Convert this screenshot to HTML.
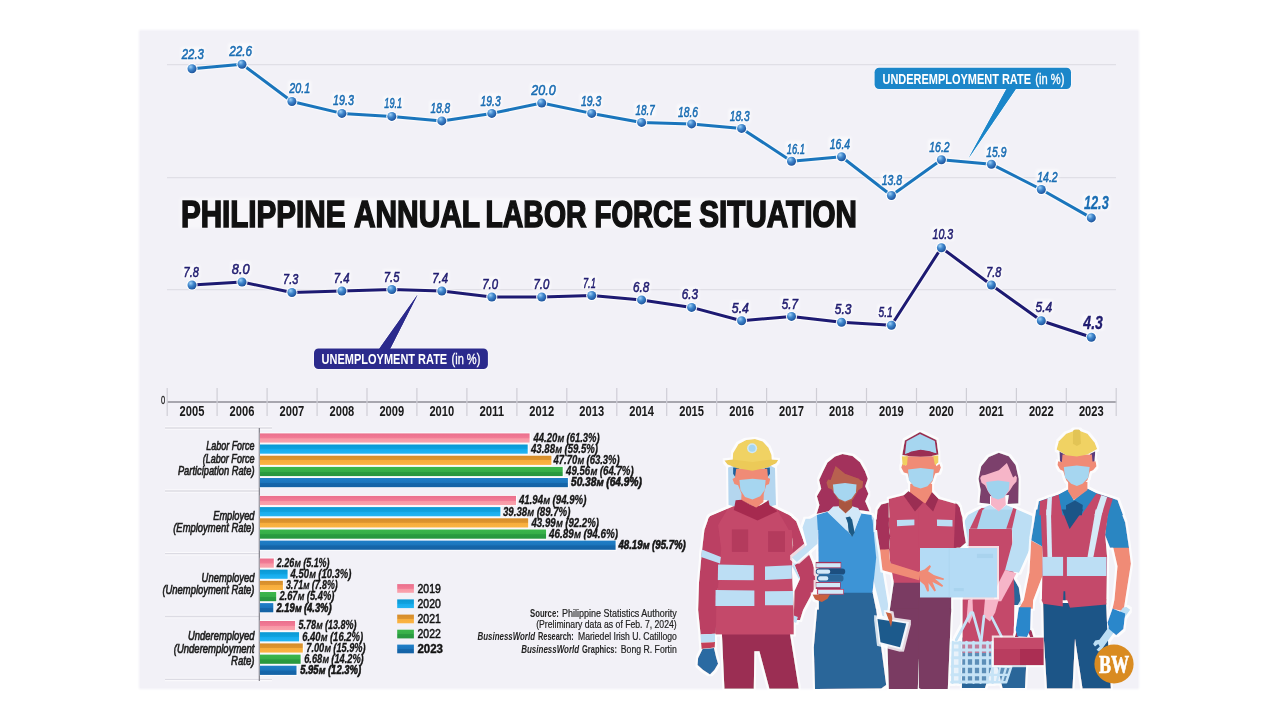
<!DOCTYPE html>
<html lang="en"><head><meta charset="utf-8"><title>Philippine Annual Labor Force Situation</title>
<style>
html,body{margin:0;padding:0;background:#fff;}
body{width:1280px;height:720px;overflow:hidden;font-family:"Liberation Sans", sans-serif;}
svg{display:block;}
svg text{font-family:"Liberation Sans", sans-serif;}
</style></head><body>
<svg width="1280" height="720" viewBox="0 0 1280 720">
<defs>
<radialGradient id="ball" cx="0.35" cy="0.3" r="0.75">
<stop offset="0" stop-color="#9fd0f5"/><stop offset="0.45" stop-color="#3f86cc"/><stop offset="1" stop-color="#1b4f98"/>
</radialGradient>
<linearGradient id="gpink" x1="0" y1="0" x2="0" y2="1"><stop offset="0" stop-color="#ea6f8c"/><stop offset="0.5" stop-color="#f27c96"/><stop offset="0.58" stop-color="#f898a6"/><stop offset="1" stop-color="#f9a3ad"/></linearGradient>
<linearGradient id="gcyan" x1="0" y1="0" x2="0" y2="1"><stop offset="0" stop-color="#0b98d3"/><stop offset="0.5" stop-color="#10a3e0"/><stop offset="0.55" stop-color="#16adee"/><stop offset="1" stop-color="#24b4f2"/></linearGradient>
<linearGradient id="gorange" x1="0" y1="0" x2="0" y2="1"><stop offset="0" stop-color="#d58c2a"/><stop offset="0.45" stop-color="#dd9530"/><stop offset="0.5" stop-color="#f7ad3c"/><stop offset="1" stop-color="#fbb443"/></linearGradient>
<linearGradient id="ggreen" x1="0" y1="0" x2="0" y2="1"><stop offset="0" stop-color="#3cb64b"/><stop offset="0.5" stop-color="#36ae48"/><stop offset="0.55" stop-color="#2a9c40"/><stop offset="1" stop-color="#27963e"/></linearGradient>
<linearGradient id="gblue" x1="0" y1="0" x2="0" y2="1"><stop offset="0" stop-color="#1f7fc8"/><stop offset="0.5" stop-color="#1b75bc"/><stop offset="0.55" stop-color="#1567ab"/><stop offset="1" stop-color="#1462a5"/></linearGradient>
<filter id="soft" x="-5%" y="-5%" width="110%" height="110%"><feGaussianBlur stdDeviation="0.8"/></filter>
<filter id="halo" x="-5%" y="-5%" width="110%" height="110%">
<feMorphology in="SourceAlpha" operator="dilate" radius="1.5" result="d"/>
<feGaussianBlur in="d" stdDeviation="0.7" result="b"/>
<feFlood flood-color="#fff" flood-opacity="0.8"/><feComposite in2="b" operator="in" result="h"/>
<feMerge><feMergeNode in="h"/><feMergeNode in="SourceGraphic"/></feMerge>
</filter>
<filter id="hblur" x="-20%" y="-30%" width="140%" height="160%"><feGaussianBlur stdDeviation="1.1"/></filter>
</defs>
<rect x="139" y="30" width="1000" height="659" fill="#f2f1f7" filter="url(#soft)"/>
<rect x="140" y="31" width="998" height="657" fill="#f2f1f7"/>
<line x1="167" y1="289.6" x2="1116" y2="289.6" stroke="#e0dfe6" stroke-width="1.2"/>
<line x1="167" y1="177.6" x2="1116" y2="177.6" stroke="#e0dfe6" stroke-width="1.2"/>
<line x1="167" y1="64.7" x2="1116" y2="64.7" stroke="#e0dfe6" stroke-width="1.2"/>
<rect x="179.7" y="197.4" width="678.4" height="30.6" rx="2" fill="#fff" fill-opacity="0.35" filter="url(#hblur)"/><text y="226.6" style="font-size:37.8px" fill="#111"><tspan x="180.9" textLength="164.6" lengthAdjust="spacingAndGlyphs" style="font-weight:700;" stroke="#111" stroke-width="1.6">PHILIPPINE</tspan> <tspan x="353.9" textLength="126.2" lengthAdjust="spacingAndGlyphs" style="font-weight:700;" stroke="#111" stroke-width="1.6">ANNUAL</tspan> <tspan x="485.5" textLength="101.0" lengthAdjust="spacingAndGlyphs" style="font-weight:700;" stroke="#111" stroke-width="1.6">LABOR</tspan> <tspan x="594.5" textLength="97.0" lengthAdjust="spacingAndGlyphs" style="font-weight:700;" stroke="#111" stroke-width="1.6">FORCE</tspan> <tspan x="699.3" textLength="157.6" lengthAdjust="spacingAndGlyphs" style="font-weight:700;" stroke="#111" stroke-width="1.6">SITUATION</tspan></text>
<line x1="167" y1="402" x2="1116.5" y2="402" stroke="#8e8d96" stroke-width="1.3"/>
<line x1="167.2" y1="388" x2="167.2" y2="416" stroke="#cfced6" stroke-width="1.2"/>
<line x1="217.1" y1="388" x2="217.1" y2="416" stroke="#cfced6" stroke-width="1.2"/>
<line x1="267.1" y1="388" x2="267.1" y2="416" stroke="#cfced6" stroke-width="1.2"/>
<line x1="317.1" y1="388" x2="317.1" y2="416" stroke="#cfced6" stroke-width="1.2"/>
<line x1="367.0" y1="388" x2="367.0" y2="416" stroke="#cfced6" stroke-width="1.2"/>
<line x1="416.9" y1="388" x2="416.9" y2="416" stroke="#cfced6" stroke-width="1.2"/>
<line x1="466.9" y1="388" x2="466.9" y2="416" stroke="#cfced6" stroke-width="1.2"/>
<line x1="516.9" y1="388" x2="516.9" y2="416" stroke="#cfced6" stroke-width="1.2"/>
<line x1="566.8" y1="388" x2="566.8" y2="416" stroke="#cfced6" stroke-width="1.2"/>
<line x1="616.8" y1="388" x2="616.8" y2="416" stroke="#cfced6" stroke-width="1.2"/>
<line x1="666.7" y1="388" x2="666.7" y2="416" stroke="#cfced6" stroke-width="1.2"/>
<line x1="716.7" y1="388" x2="716.7" y2="416" stroke="#cfced6" stroke-width="1.2"/>
<line x1="766.6" y1="388" x2="766.6" y2="416" stroke="#cfced6" stroke-width="1.2"/>
<line x1="816.5" y1="388" x2="816.5" y2="416" stroke="#cfced6" stroke-width="1.2"/>
<line x1="866.5" y1="388" x2="866.5" y2="416" stroke="#cfced6" stroke-width="1.2"/>
<line x1="916.5" y1="388" x2="916.5" y2="416" stroke="#cfced6" stroke-width="1.2"/>
<line x1="966.4" y1="388" x2="966.4" y2="416" stroke="#cfced6" stroke-width="1.2"/>
<line x1="1016.4" y1="388" x2="1016.4" y2="416" stroke="#cfced6" stroke-width="1.2"/>
<line x1="1066.3" y1="388" x2="1066.3" y2="416" stroke="#cfced6" stroke-width="1.2"/>
<line x1="1116.2" y1="388" x2="1116.2" y2="416" stroke="#cfced6" stroke-width="1.2"/>
<text x="161.0" y="403.9" textLength="4.2" lengthAdjust="spacingAndGlyphs" style="font-size:10.6px;font-weight:400;" fill="#222" stroke="#222" stroke-width="0.3" >0</text>
<text x="179.6" y="415.7" textLength="24.8" lengthAdjust="spacingAndGlyphs" style="font-size:14.0px;font-weight:700;" fill="#1a1a1a" >2005</text>
<text x="229.6" y="415.7" textLength="24.8" lengthAdjust="spacingAndGlyphs" style="font-size:14.0px;font-weight:700;" fill="#1a1a1a" >2006</text>
<text x="279.5" y="415.7" textLength="24.8" lengthAdjust="spacingAndGlyphs" style="font-size:14.0px;font-weight:700;" fill="#1a1a1a" >2007</text>
<text x="329.5" y="415.7" textLength="24.8" lengthAdjust="spacingAndGlyphs" style="font-size:14.0px;font-weight:700;" fill="#1a1a1a" >2008</text>
<text x="379.4" y="415.7" textLength="24.8" lengthAdjust="spacingAndGlyphs" style="font-size:14.0px;font-weight:700;" fill="#1a1a1a" >2009</text>
<text x="429.4" y="415.7" textLength="24.8" lengthAdjust="spacingAndGlyphs" style="font-size:14.0px;font-weight:700;" fill="#1a1a1a" >2010</text>
<text x="479.4" y="415.7" textLength="24.8" lengthAdjust="spacingAndGlyphs" style="font-size:14.0px;font-weight:700;" fill="#1a1a1a" >2011</text>
<text x="529.3" y="415.7" textLength="24.8" lengthAdjust="spacingAndGlyphs" style="font-size:14.0px;font-weight:700;" fill="#1a1a1a" >2012</text>
<text x="579.3" y="415.7" textLength="24.8" lengthAdjust="spacingAndGlyphs" style="font-size:14.0px;font-weight:700;" fill="#1a1a1a" >2013</text>
<text x="629.2" y="415.7" textLength="24.8" lengthAdjust="spacingAndGlyphs" style="font-size:14.0px;font-weight:700;" fill="#1a1a1a" >2014</text>
<text x="679.2" y="415.7" textLength="24.8" lengthAdjust="spacingAndGlyphs" style="font-size:14.0px;font-weight:700;" fill="#1a1a1a" >2015</text>
<text x="729.2" y="415.7" textLength="24.8" lengthAdjust="spacingAndGlyphs" style="font-size:14.0px;font-weight:700;" fill="#1a1a1a" >2016</text>
<text x="779.1" y="415.7" textLength="24.8" lengthAdjust="spacingAndGlyphs" style="font-size:14.0px;font-weight:700;" fill="#1a1a1a" >2017</text>
<text x="829.1" y="415.7" textLength="24.8" lengthAdjust="spacingAndGlyphs" style="font-size:14.0px;font-weight:700;" fill="#1a1a1a" >2018</text>
<text x="879.0" y="415.7" textLength="24.8" lengthAdjust="spacingAndGlyphs" style="font-size:14.0px;font-weight:700;" fill="#1a1a1a" >2019</text>
<text x="929.0" y="415.7" textLength="24.8" lengthAdjust="spacingAndGlyphs" style="font-size:14.0px;font-weight:700;" fill="#1a1a1a" >2020</text>
<text x="979.0" y="415.7" textLength="24.8" lengthAdjust="spacingAndGlyphs" style="font-size:14.0px;font-weight:700;" fill="#1a1a1a" >2021</text>
<text x="1028.9" y="415.7" textLength="24.8" lengthAdjust="spacingAndGlyphs" style="font-size:14.0px;font-weight:700;" fill="#1a1a1a" >2022</text>
<text x="1078.9" y="415.7" textLength="24.8" lengthAdjust="spacingAndGlyphs" style="font-size:14.0px;font-weight:700;" fill="#1a1a1a" >2023</text>
<g><polygon points="1007,88 1016.5,88 968.7,158" fill="#1b86c9" stroke="#fff" stroke-opacity="0.6" stroke-width="1.5" paint-order="stroke"/><rect x="874.6" y="67.8" width="196.4" height="21.3" rx="4.5" fill="#1b86c9" stroke="#fff" stroke-opacity="0.6" stroke-width="1.5" paint-order="stroke"/><polygon points="1007,88 1016.5,88 968.7,158" fill="#1b86c9"/></g>
<text y="84.0" style="font-size:15.2px" fill="#fff"><tspan x="882.5" textLength="148.5" lengthAdjust="spacingAndGlyphs" style="font-weight:700;">UNDEREMPLOYMENT RATE</tspan> <tspan x="1035.3" textLength="29.1" lengthAdjust="spacingAndGlyphs" style="font-weight:400;" stroke="#fff" stroke-width="0.35">(in %)</tspan></text>
<g><polygon points="378.7,349.5 389.8,349.5 417.7,294.4" fill="#2b2a8c" stroke="#fff" stroke-opacity="0.6" stroke-width="1.5" paint-order="stroke"/><rect x="314" y="348.4" width="173.9" height="20.6" rx="4.5" fill="#2b2a8c" stroke="#fff" stroke-opacity="0.6" stroke-width="1.5" paint-order="stroke"/><polygon points="378.7,349.5 389.8,349.5 417.7,294.4" fill="#2b2a8c"/></g>
<text y="364.3" style="font-size:15.2px" fill="#fff"><tspan x="321.6" textLength="125.6" lengthAdjust="spacingAndGlyphs" style="font-weight:700;">UNEMPLOYMENT RATE</tspan> <tspan x="451.5" textLength="28.9" lengthAdjust="spacingAndGlyphs" style="font-weight:400;" stroke="#fff" stroke-width="0.35">(in %)</tspan></text>
<polyline points="192.0,68.7 242.0,64.2 291.9,101.5 341.9,113.4 391.8,116.4 441.8,120.9 491.8,113.4 541.7,103.0 591.7,113.4 641.6,122.4 691.6,123.9 741.6,128.4 791.5,161.2 841.5,156.7 891.4,195.5 941.4,159.7 991.4,164.2 1041.3,189.5 1091.3,217.9" fill="none" stroke="#fff" stroke-opacity="0.55" stroke-width="5.5" stroke-linejoin="round"/>
<polyline points="192.0,68.7 242.0,64.2 291.9,101.5 341.9,113.4 391.8,116.4 441.8,120.9 491.8,113.4 541.7,103.0 591.7,113.4 641.6,122.4 691.6,123.9 741.6,128.4 791.5,161.2 841.5,156.7 891.4,195.5 941.4,159.7 991.4,164.2 1041.3,189.5 1091.3,217.9" fill="none" stroke="#1a75bc" stroke-width="3" stroke-linejoin="round" stroke-linecap="round"/>
<circle cx="192.0" cy="68.7" r="5.6" fill="#fff" fill-opacity="0.9"/>
<circle cx="192.0" cy="68.7" r="4.5" fill="url(#ball)"/>
<circle cx="242.0" cy="64.2" r="5.6" fill="#fff" fill-opacity="0.9"/>
<circle cx="242.0" cy="64.2" r="4.5" fill="url(#ball)"/>
<circle cx="291.9" cy="101.5" r="5.6" fill="#fff" fill-opacity="0.9"/>
<circle cx="291.9" cy="101.5" r="4.5" fill="url(#ball)"/>
<circle cx="341.9" cy="113.4" r="5.6" fill="#fff" fill-opacity="0.9"/>
<circle cx="341.9" cy="113.4" r="4.5" fill="url(#ball)"/>
<circle cx="391.8" cy="116.4" r="5.6" fill="#fff" fill-opacity="0.9"/>
<circle cx="391.8" cy="116.4" r="4.5" fill="url(#ball)"/>
<circle cx="441.8" cy="120.9" r="5.6" fill="#fff" fill-opacity="0.9"/>
<circle cx="441.8" cy="120.9" r="4.5" fill="url(#ball)"/>
<circle cx="491.8" cy="113.4" r="5.6" fill="#fff" fill-opacity="0.9"/>
<circle cx="491.8" cy="113.4" r="4.5" fill="url(#ball)"/>
<circle cx="541.7" cy="103.0" r="5.6" fill="#fff" fill-opacity="0.9"/>
<circle cx="541.7" cy="103.0" r="4.5" fill="url(#ball)"/>
<circle cx="591.7" cy="113.4" r="5.6" fill="#fff" fill-opacity="0.9"/>
<circle cx="591.7" cy="113.4" r="4.5" fill="url(#ball)"/>
<circle cx="641.6" cy="122.4" r="5.6" fill="#fff" fill-opacity="0.9"/>
<circle cx="641.6" cy="122.4" r="4.5" fill="url(#ball)"/>
<circle cx="691.6" cy="123.9" r="5.6" fill="#fff" fill-opacity="0.9"/>
<circle cx="691.6" cy="123.9" r="4.5" fill="url(#ball)"/>
<circle cx="741.6" cy="128.4" r="5.6" fill="#fff" fill-opacity="0.9"/>
<circle cx="741.6" cy="128.4" r="4.5" fill="url(#ball)"/>
<circle cx="791.5" cy="161.2" r="5.6" fill="#fff" fill-opacity="0.9"/>
<circle cx="791.5" cy="161.2" r="4.5" fill="url(#ball)"/>
<circle cx="841.5" cy="156.7" r="5.6" fill="#fff" fill-opacity="0.9"/>
<circle cx="841.5" cy="156.7" r="4.5" fill="url(#ball)"/>
<circle cx="891.4" cy="195.5" r="5.6" fill="#fff" fill-opacity="0.9"/>
<circle cx="891.4" cy="195.5" r="4.5" fill="url(#ball)"/>
<circle cx="941.4" cy="159.7" r="5.6" fill="#fff" fill-opacity="0.9"/>
<circle cx="941.4" cy="159.7" r="4.5" fill="url(#ball)"/>
<circle cx="991.4" cy="164.2" r="5.6" fill="#fff" fill-opacity="0.9"/>
<circle cx="991.4" cy="164.2" r="4.5" fill="url(#ball)"/>
<circle cx="1041.3" cy="189.5" r="5.6" fill="#fff" fill-opacity="0.9"/>
<circle cx="1041.3" cy="189.5" r="4.5" fill="url(#ball)"/>
<circle cx="1091.3" cy="217.9" r="5.6" fill="#fff" fill-opacity="0.9"/>
<circle cx="1091.3" cy="217.9" r="4.5" fill="url(#ball)"/>
<rect x="180.6" y="47.0" width="24.4" height="13.7" rx="2" fill="#fff" fill-opacity="0.6" filter="url(#hblur)"/><text x="181.8" y="59.3" textLength="22.1" lengthAdjust="spacingAndGlyphs" style="font-size:15.0px;font-weight:400;font-style:italic;" fill="#1a6db3" stroke="#1a6db3" stroke-width="0.6" >22.3</text>
<rect x="228.1" y="43.2" width="25.2" height="13.7" rx="2" fill="#fff" fill-opacity="0.6" filter="url(#hblur)"/><text x="229.3" y="55.5" textLength="22.8" lengthAdjust="spacingAndGlyphs" style="font-size:15.0px;font-weight:400;font-style:italic;" fill="#1a6db3" stroke="#1a6db3" stroke-width="0.6" >22.6</text>
<rect x="288.1" y="80.8" width="23.2" height="13.7" rx="2" fill="#fff" fill-opacity="0.6" filter="url(#hblur)"/><text x="289.3" y="93.0" textLength="20.8" lengthAdjust="spacingAndGlyphs" style="font-size:15.0px;font-weight:400;font-style:italic;" fill="#1a6db3" stroke="#1a6db3" stroke-width="0.6" >20.1</text>
<rect x="331.9" y="92.5" width="23.2" height="13.7" rx="2" fill="#fff" fill-opacity="0.6" filter="url(#hblur)"/><text x="333.1" y="104.8" textLength="20.8" lengthAdjust="spacingAndGlyphs" style="font-size:15.0px;font-weight:400;font-style:italic;" fill="#1a6db3" stroke="#1a6db3" stroke-width="0.6" >19.3</text>
<rect x="383.1" y="95.8" width="20.2" height="13.7" rx="2" fill="#fff" fill-opacity="0.6" filter="url(#hblur)"/><text x="384.3" y="108.0" textLength="17.8" lengthAdjust="spacingAndGlyphs" style="font-size:15.0px;font-weight:400;font-style:italic;" fill="#1a6db3" stroke="#1a6db3" stroke-width="0.6" >19.1</text>
<rect x="429.4" y="100.8" width="21.9" height="13.7" rx="2" fill="#fff" fill-opacity="0.6" filter="url(#hblur)"/><text x="430.6" y="113.0" textLength="19.6" lengthAdjust="spacingAndGlyphs" style="font-size:15.0px;font-weight:400;font-style:italic;" fill="#1a6db3" stroke="#1a6db3" stroke-width="0.6" >18.8</text>
<rect x="479.4" y="93.2" width="22.4" height="13.7" rx="2" fill="#fff" fill-opacity="0.6" filter="url(#hblur)"/><text x="480.6" y="105.5" textLength="20.1" lengthAdjust="spacingAndGlyphs" style="font-size:15.0px;font-weight:400;font-style:italic;" fill="#1a6db3" stroke="#1a6db3" stroke-width="0.6" >19.3</text>
<rect x="530.1" y="83.0" width="26.7" height="13.7" rx="2" fill="#fff" fill-opacity="0.6" filter="url(#hblur)"/><text x="531.3" y="95.3" textLength="24.3" lengthAdjust="spacingAndGlyphs" style="font-size:15.0px;font-weight:400;font-style:italic;" fill="#1a6db3" stroke="#1a6db3" stroke-width="0.6" >20.0</text>
<rect x="579.8" y="93.2" width="22.7" height="13.7" rx="2" fill="#fff" fill-opacity="0.6" filter="url(#hblur)"/><text x="581.0" y="105.5" textLength="20.3" lengthAdjust="spacingAndGlyphs" style="font-size:15.0px;font-weight:400;font-style:italic;" fill="#1a6db3" stroke="#1a6db3" stroke-width="0.6" >19.3</text>
<rect x="634.3" y="102.5" width="21.4" height="13.7" rx="2" fill="#fff" fill-opacity="0.6" filter="url(#hblur)"/><text x="635.5" y="114.8" textLength="19.1" lengthAdjust="spacingAndGlyphs" style="font-size:15.0px;font-weight:400;font-style:italic;" fill="#1a6db3" stroke="#1a6db3" stroke-width="0.6" >18.7</text>
<rect x="676.8" y="104.2" width="22.4" height="13.7" rx="2" fill="#fff" fill-opacity="0.6" filter="url(#hblur)"/><text x="678.0" y="116.5" textLength="20.1" lengthAdjust="spacingAndGlyphs" style="font-size:15.0px;font-weight:400;font-style:italic;" fill="#1a6db3" stroke="#1a6db3" stroke-width="0.6" >18.6</text>
<rect x="728.6" y="108.8" width="22.2" height="13.7" rx="2" fill="#fff" fill-opacity="0.6" filter="url(#hblur)"/><text x="729.8" y="121.0" textLength="19.8" lengthAdjust="spacingAndGlyphs" style="font-size:15.0px;font-weight:400;font-style:italic;" fill="#1a6db3" stroke="#1a6db3" stroke-width="0.6" >18.3</text>
<rect x="785.6" y="141.3" width="20.7" height="13.7" rx="2" fill="#fff" fill-opacity="0.6" filter="url(#hblur)"/><text x="786.8" y="153.6" textLength="18.3" lengthAdjust="spacingAndGlyphs" style="font-size:15.0px;font-weight:400;font-style:italic;" fill="#1a6db3" stroke="#1a6db3" stroke-width="0.6" >16.1</text>
<rect x="828.6" y="136.8" width="22.7" height="13.7" rx="2" fill="#fff" fill-opacity="0.6" filter="url(#hblur)"/><text x="829.8" y="149.1" textLength="20.3" lengthAdjust="spacingAndGlyphs" style="font-size:15.0px;font-weight:400;font-style:italic;" fill="#1a6db3" stroke="#1a6db3" stroke-width="0.6" >16.4</text>
<rect x="880.6" y="172.5" width="22.7" height="13.7" rx="2" fill="#fff" fill-opacity="0.6" filter="url(#hblur)"/><text x="881.8" y="184.8" textLength="20.3" lengthAdjust="spacingAndGlyphs" style="font-size:15.0px;font-weight:400;font-style:italic;" fill="#1a6db3" stroke="#1a6db3" stroke-width="0.6" >13.8</text>
<rect x="928.1" y="139.3" width="22.7" height="13.7" rx="2" fill="#fff" fill-opacity="0.6" filter="url(#hblur)"/><text x="929.3" y="151.6" textLength="20.3" lengthAdjust="spacingAndGlyphs" style="font-size:15.0px;font-weight:400;font-style:italic;" fill="#1a6db3" stroke="#1a6db3" stroke-width="0.6" >16.2</text>
<rect x="985.1" y="144.5" width="22.4" height="13.7" rx="2" fill="#fff" fill-opacity="0.6" filter="url(#hblur)"/><text x="986.3" y="156.8" textLength="20.1" lengthAdjust="spacingAndGlyphs" style="font-size:15.0px;font-weight:400;font-style:italic;" fill="#1a6db3" stroke="#1a6db3" stroke-width="0.6" >15.9</text>
<rect x="1036.1" y="169.3" width="22.7" height="13.7" rx="2" fill="#fff" fill-opacity="0.6" filter="url(#hblur)"/><text x="1037.3" y="181.6" textLength="20.3" lengthAdjust="spacingAndGlyphs" style="font-size:15.0px;font-weight:400;font-style:italic;" fill="#1a6db3" stroke="#1a6db3" stroke-width="0.6" >14.2</text>
<rect x="1082.7" y="194.5" width="27.3" height="15.6" rx="2" fill="#fff" fill-opacity="0.6" filter="url(#hblur)"/><text x="1083.9" y="208.7" textLength="24.9" lengthAdjust="spacingAndGlyphs" style="font-size:17.6px;font-weight:700;font-style:italic;" fill="#1a6db3" stroke="#1a6db3" stroke-width="0.3" >12.3</text>
<polyline points="192.0,285.0 242.0,282.0 291.9,292.5 341.9,291.0 391.8,289.5 441.8,291.0 491.8,297.0 541.7,297.0 591.7,295.5 641.6,299.9 691.6,307.4 741.6,320.8 791.5,316.4 841.5,322.3 891.4,325.3 941.4,247.7 991.4,285.0 1041.3,320.8 1091.3,337.2" fill="none" stroke="#fff" stroke-opacity="0.55" stroke-width="5.5" stroke-linejoin="round"/>
<polyline points="192.0,285.0 242.0,282.0 291.9,292.5 341.9,291.0 391.8,289.5 441.8,291.0 491.8,297.0 541.7,297.0 591.7,295.5 641.6,299.9 691.6,307.4 741.6,320.8 791.5,316.4 841.5,322.3 891.4,325.3 941.4,247.7 991.4,285.0 1041.3,320.8 1091.3,337.2" fill="none" stroke="#1d1a72" stroke-width="3" stroke-linejoin="round" stroke-linecap="round"/>
<circle cx="192.0" cy="285.0" r="5.6" fill="#fff" fill-opacity="0.9"/>
<circle cx="192.0" cy="285.0" r="4.5" fill="url(#ball)"/>
<circle cx="242.0" cy="282.0" r="5.6" fill="#fff" fill-opacity="0.9"/>
<circle cx="242.0" cy="282.0" r="4.5" fill="url(#ball)"/>
<circle cx="291.9" cy="292.5" r="5.6" fill="#fff" fill-opacity="0.9"/>
<circle cx="291.9" cy="292.5" r="4.5" fill="url(#ball)"/>
<circle cx="341.9" cy="291.0" r="5.6" fill="#fff" fill-opacity="0.9"/>
<circle cx="341.9" cy="291.0" r="4.5" fill="url(#ball)"/>
<circle cx="391.8" cy="289.5" r="5.6" fill="#fff" fill-opacity="0.9"/>
<circle cx="391.8" cy="289.5" r="4.5" fill="url(#ball)"/>
<circle cx="441.8" cy="291.0" r="5.6" fill="#fff" fill-opacity="0.9"/>
<circle cx="441.8" cy="291.0" r="4.5" fill="url(#ball)"/>
<circle cx="491.8" cy="297.0" r="5.6" fill="#fff" fill-opacity="0.9"/>
<circle cx="491.8" cy="297.0" r="4.5" fill="url(#ball)"/>
<circle cx="541.7" cy="297.0" r="5.6" fill="#fff" fill-opacity="0.9"/>
<circle cx="541.7" cy="297.0" r="4.5" fill="url(#ball)"/>
<circle cx="591.7" cy="295.5" r="5.6" fill="#fff" fill-opacity="0.9"/>
<circle cx="591.7" cy="295.5" r="4.5" fill="url(#ball)"/>
<circle cx="641.6" cy="299.9" r="5.6" fill="#fff" fill-opacity="0.9"/>
<circle cx="641.6" cy="299.9" r="4.5" fill="url(#ball)"/>
<circle cx="691.6" cy="307.4" r="5.6" fill="#fff" fill-opacity="0.9"/>
<circle cx="691.6" cy="307.4" r="4.5" fill="url(#ball)"/>
<circle cx="741.6" cy="320.8" r="5.6" fill="#fff" fill-opacity="0.9"/>
<circle cx="741.6" cy="320.8" r="4.5" fill="url(#ball)"/>
<circle cx="791.5" cy="316.4" r="5.6" fill="#fff" fill-opacity="0.9"/>
<circle cx="791.5" cy="316.4" r="4.5" fill="url(#ball)"/>
<circle cx="841.5" cy="322.3" r="5.6" fill="#fff" fill-opacity="0.9"/>
<circle cx="841.5" cy="322.3" r="4.5" fill="url(#ball)"/>
<circle cx="891.4" cy="325.3" r="5.6" fill="#fff" fill-opacity="0.9"/>
<circle cx="891.4" cy="325.3" r="4.5" fill="url(#ball)"/>
<circle cx="941.4" cy="247.7" r="5.6" fill="#fff" fill-opacity="0.9"/>
<circle cx="941.4" cy="247.7" r="4.5" fill="url(#ball)"/>
<circle cx="991.4" cy="285.0" r="5.6" fill="#fff" fill-opacity="0.9"/>
<circle cx="991.4" cy="285.0" r="4.5" fill="url(#ball)"/>
<circle cx="1041.3" cy="320.8" r="5.6" fill="#fff" fill-opacity="0.9"/>
<circle cx="1041.3" cy="320.8" r="4.5" fill="url(#ball)"/>
<circle cx="1091.3" cy="337.2" r="5.6" fill="#fff" fill-opacity="0.9"/>
<circle cx="1091.3" cy="337.2" r="4.5" fill="url(#ball)"/>
<rect x="182.4" y="264.5" width="17.7" height="13.7" rx="2" fill="#fff" fill-opacity="0.6" filter="url(#hblur)"/><text x="183.6" y="276.8" textLength="15.3" lengthAdjust="spacingAndGlyphs" style="font-size:15.0px;font-weight:400;font-style:italic;" fill="#211d70" stroke="#211d70" stroke-width="0.6" >7.8</text>
<rect x="230.6" y="261.2" width="20.2" height="13.7" rx="2" fill="#fff" fill-opacity="0.6" filter="url(#hblur)"/><text x="231.8" y="273.6" textLength="17.8" lengthAdjust="spacingAndGlyphs" style="font-size:15.0px;font-weight:400;font-style:italic;" fill="#211d70" stroke="#211d70" stroke-width="0.6" >8.0</text>
<rect x="281.9" y="271.2" width="17.4" height="13.7" rx="2" fill="#fff" fill-opacity="0.6" filter="url(#hblur)"/><text x="283.1" y="283.6" textLength="15.1" lengthAdjust="spacingAndGlyphs" style="font-size:15.0px;font-weight:400;font-style:italic;" fill="#211d70" stroke="#211d70" stroke-width="0.6" >7.3</text>
<rect x="332.6" y="270.5" width="18.2" height="13.7" rx="2" fill="#fff" fill-opacity="0.6" filter="url(#hblur)"/><text x="333.8" y="282.8" textLength="15.8" lengthAdjust="spacingAndGlyphs" style="font-size:15.0px;font-weight:400;font-style:italic;" fill="#211d70" stroke="#211d70" stroke-width="0.6" >7.4</text>
<rect x="382.6" y="269.2" width="17.9" height="13.7" rx="2" fill="#fff" fill-opacity="0.6" filter="url(#hblur)"/><text x="383.8" y="281.6" textLength="15.6" lengthAdjust="spacingAndGlyphs" style="font-size:15.0px;font-weight:400;font-style:italic;" fill="#211d70" stroke="#211d70" stroke-width="0.6" >7.5</text>
<rect x="431.1" y="270.5" width="18.2" height="13.7" rx="2" fill="#fff" fill-opacity="0.6" filter="url(#hblur)"/><text x="432.3" y="282.8" textLength="15.8" lengthAdjust="spacingAndGlyphs" style="font-size:15.0px;font-weight:400;font-style:italic;" fill="#211d70" stroke="#211d70" stroke-width="0.6" >7.4</text>
<rect x="481.1" y="276.8" width="18.2" height="13.7" rx="2" fill="#fff" fill-opacity="0.6" filter="url(#hblur)"/><text x="482.3" y="289.1" textLength="15.8" lengthAdjust="spacingAndGlyphs" style="font-size:15.0px;font-weight:400;font-style:italic;" fill="#211d70" stroke="#211d70" stroke-width="0.6" >7.0</text>
<rect x="532.3" y="276.8" width="18.2" height="13.7" rx="2" fill="#fff" fill-opacity="0.6" filter="url(#hblur)"/><text x="533.5" y="289.1" textLength="15.8" lengthAdjust="spacingAndGlyphs" style="font-size:15.0px;font-weight:400;font-style:italic;" fill="#211d70" stroke="#211d70" stroke-width="0.6" >7.0</text>
<rect x="581.8" y="275.5" width="15.2" height="13.7" rx="2" fill="#fff" fill-opacity="0.6" filter="url(#hblur)"/><text x="583.0" y="287.8" textLength="12.8" lengthAdjust="spacingAndGlyphs" style="font-size:15.0px;font-weight:400;font-style:italic;" fill="#211d70" stroke="#211d70" stroke-width="0.6" >7.1</text>
<rect x="631.8" y="279.5" width="18.7" height="13.7" rx="2" fill="#fff" fill-opacity="0.6" filter="url(#hblur)"/><text x="633.0" y="291.8" textLength="16.3" lengthAdjust="spacingAndGlyphs" style="font-size:15.0px;font-weight:400;font-style:italic;" fill="#211d70" stroke="#211d70" stroke-width="0.6" >6.8</text>
<rect x="680.6" y="287.0" width="18.7" height="13.7" rx="2" fill="#fff" fill-opacity="0.6" filter="url(#hblur)"/><text x="681.8" y="299.3" textLength="16.3" lengthAdjust="spacingAndGlyphs" style="font-size:15.0px;font-weight:400;font-style:italic;" fill="#211d70" stroke="#211d70" stroke-width="0.6" >6.3</text>
<rect x="730.6" y="300.5" width="19.4" height="13.7" rx="2" fill="#fff" fill-opacity="0.6" filter="url(#hblur)"/><text x="731.8" y="312.8" textLength="17.1" lengthAdjust="spacingAndGlyphs" style="font-size:15.0px;font-weight:400;font-style:italic;" fill="#211d70" stroke="#211d70" stroke-width="0.6" >5.4</text>
<rect x="780.6" y="296.2" width="18.7" height="13.7" rx="2" fill="#fff" fill-opacity="0.6" filter="url(#hblur)"/><text x="781.8" y="308.6" textLength="16.3" lengthAdjust="spacingAndGlyphs" style="font-size:15.0px;font-weight:400;font-style:italic;" fill="#211d70" stroke="#211d70" stroke-width="0.6" >5.7</text>
<rect x="833.6" y="301.2" width="18.9" height="13.7" rx="2" fill="#fff" fill-opacity="0.6" filter="url(#hblur)"/><text x="834.8" y="313.6" textLength="16.6" lengthAdjust="spacingAndGlyphs" style="font-size:15.0px;font-weight:400;font-style:italic;" fill="#211d70" stroke="#211d70" stroke-width="0.6" >5.3</text>
<rect x="877.3" y="304.5" width="16.4" height="13.7" rx="2" fill="#fff" fill-opacity="0.6" filter="url(#hblur)"/><text x="878.5" y="316.8" textLength="14.1" lengthAdjust="spacingAndGlyphs" style="font-size:15.0px;font-weight:400;font-style:italic;" fill="#211d70" stroke="#211d70" stroke-width="0.6" >5.1</text>
<rect x="931.3" y="227.0" width="22.9" height="13.7" rx="2" fill="#fff" fill-opacity="0.6" filter="url(#hblur)"/><text x="932.5" y="239.3" textLength="20.6" lengthAdjust="spacingAndGlyphs" style="font-size:15.0px;font-weight:400;font-style:italic;" fill="#211d70" stroke="#211d70" stroke-width="0.6" >10.3</text>
<rect x="985.1" y="264.5" width="17.4" height="13.7" rx="2" fill="#fff" fill-opacity="0.6" filter="url(#hblur)"/><text x="986.3" y="276.8" textLength="15.1" lengthAdjust="spacingAndGlyphs" style="font-size:15.0px;font-weight:400;font-style:italic;" fill="#211d70" stroke="#211d70" stroke-width="0.6" >7.8</text>
<rect x="1034.3" y="299.5" width="18.9" height="13.7" rx="2" fill="#fff" fill-opacity="0.6" filter="url(#hblur)"/><text x="1035.5" y="311.8" textLength="16.6" lengthAdjust="spacingAndGlyphs" style="font-size:15.0px;font-weight:400;font-style:italic;" fill="#211d70" stroke="#211d70" stroke-width="0.6" >5.4</text>
<rect x="1082.1" y="314.7" width="22.1" height="15.6" rx="2" fill="#fff" fill-opacity="0.6" filter="url(#hblur)"/><text x="1083.3" y="328.9" textLength="19.7" lengthAdjust="spacingAndGlyphs" style="font-size:17.6px;font-weight:700;font-style:italic;" fill="#211d70" stroke="#211d70" stroke-width="0.3" >4.3</text>
<line x1="165" y1="428" x2="272" y2="428" stroke="#fff" stroke-opacity="0.6" stroke-width="3.5"/>
<line x1="165" y1="428" x2="272" y2="428" stroke="#dcdbe3" stroke-width="1.3"/>
<line x1="165" y1="491" x2="259" y2="491" stroke="#fff" stroke-opacity="0.6" stroke-width="3.5"/>
<line x1="165" y1="491" x2="259" y2="491" stroke="#dcdbe3" stroke-width="1.3"/>
<line x1="165" y1="553.7" x2="259" y2="553.7" stroke="#fff" stroke-opacity="0.6" stroke-width="3.5"/>
<line x1="165" y1="553.7" x2="259" y2="553.7" stroke="#dcdbe3" stroke-width="1.3"/>
<line x1="165" y1="616.5" x2="259" y2="616.5" stroke="#fff" stroke-opacity="0.6" stroke-width="3.5"/>
<line x1="165" y1="616.5" x2="259" y2="616.5" stroke="#dcdbe3" stroke-width="1.3"/>
<line x1="165" y1="679.4" x2="272" y2="679.4" stroke="#fff" stroke-opacity="0.6" stroke-width="3.5"/>
<line x1="165" y1="679.4" x2="272" y2="679.4" stroke="#dcdbe3" stroke-width="1.3"/>
<line x1="259.3" y1="428" x2="259.3" y2="681" stroke="#77767f" stroke-width="1.1"/>
<rect x="259.8" y="432.5" width="270.9" height="11.0" fill="#fff" fill-opacity="0.85"/>
<rect x="259.9" y="433.4" width="269.7" height="9.2" fill="url(#gpink)"/>
<text x="533.5" y="441.8" textLength="66.1" lengthAdjust="spacingAndGlyphs" style="font-size:11.9px;font-weight:700;font-style:italic;" fill="#161616" stroke="#161616" stroke-width="0.3"><tspan>44.20</tspan><tspan font-size="9.8" dx="0.3">M</tspan><tspan> (61.3%)</tspan></text>
<rect x="259.8" y="443.6" width="269.0" height="11.0" fill="#fff" fill-opacity="0.85"/>
<rect x="259.9" y="444.5" width="267.8" height="9.2" fill="url(#gcyan)"/>
<text x="531.0" y="452.9" textLength="67.0" lengthAdjust="spacingAndGlyphs" style="font-size:11.9px;font-weight:700;font-style:italic;" fill="#161616" stroke="#161616" stroke-width="0.3"><tspan>43.88</tspan><tspan font-size="9.8" dx="0.3">M</tspan><tspan> (59.5%)</tspan></text>
<rect x="259.8" y="454.8" width="292.7" height="11.0" fill="#fff" fill-opacity="0.85"/>
<rect x="259.9" y="455.7" width="291.5" height="9.2" fill="url(#gorange)"/>
<text x="553.5" y="464.1" textLength="66.2" lengthAdjust="spacingAndGlyphs" style="font-size:11.9px;font-weight:700;font-style:italic;" fill="#161616" stroke="#161616" stroke-width="0.3"><tspan>47.70</tspan><tspan font-size="9.8" dx="0.3">M</tspan><tspan> (63.3%)</tspan></text>
<rect x="259.8" y="466.0" width="304.0" height="11.0" fill="#fff" fill-opacity="0.85"/>
<rect x="259.9" y="466.9" width="302.8" height="9.2" fill="url(#ggreen)"/>
<text x="566.0" y="475.3" textLength="67.7" lengthAdjust="spacingAndGlyphs" style="font-size:11.9px;font-weight:700;font-style:italic;" fill="#161616" stroke="#161616" stroke-width="0.3"><tspan>49.56</tspan><tspan font-size="9.8" dx="0.3">M</tspan><tspan> (64.7%)</tspan></text>
<rect x="259.8" y="477.1" width="309.2" height="11.0" fill="#fff" fill-opacity="0.85"/>
<rect x="259.9" y="478.0" width="308.0" height="9.2" fill="url(#gblue)"/>
<text x="571.0" y="486.4" textLength="70.8" lengthAdjust="spacingAndGlyphs" style="font-size:11.9px;font-weight:700;font-style:italic;" fill="#161616" stroke="#161616" stroke-width="0.6"><tspan>50.38</tspan><tspan font-size="9.8" dx="0.3">M</tspan><tspan> (64.9%)</tspan></text>
<rect x="259.8" y="495.1" width="257.3" height="11.0" fill="#fff" fill-opacity="0.85"/>
<rect x="259.9" y="495.9" width="256.1" height="9.2" fill="url(#gpink)"/>
<text x="518.9" y="504.3" textLength="67.5" lengthAdjust="spacingAndGlyphs" style="font-size:11.9px;font-weight:700;font-style:italic;" fill="#161616" stroke="#161616" stroke-width="0.3"><tspan>41.94</tspan><tspan font-size="9.8" dx="0.3">M</tspan><tspan> (94.9%)</tspan></text>
<rect x="259.8" y="506.2" width="241.7" height="11.0" fill="#fff" fill-opacity="0.85"/>
<rect x="259.9" y="507.1" width="240.5" height="9.2" fill="url(#gcyan)"/>
<text x="503.0" y="515.5" textLength="67.4" lengthAdjust="spacingAndGlyphs" style="font-size:11.9px;font-weight:700;font-style:italic;" fill="#161616" stroke="#161616" stroke-width="0.3"><tspan>39.38</tspan><tspan font-size="9.8" dx="0.3">M</tspan><tspan> (89.7%)</tspan></text>
<rect x="259.8" y="517.4" width="269.5" height="11.0" fill="#fff" fill-opacity="0.85"/>
<rect x="259.9" y="518.3" width="268.3" height="9.2" fill="url(#gorange)"/>
<text x="531.5" y="526.7" textLength="67.5" lengthAdjust="spacingAndGlyphs" style="font-size:11.9px;font-weight:700;font-style:italic;" fill="#161616" stroke="#161616" stroke-width="0.3"><tspan>43.99</tspan><tspan font-size="9.8" dx="0.3">M</tspan><tspan> (92.2%)</tspan></text>
<rect x="259.8" y="528.6" width="287.4" height="11.0" fill="#fff" fill-opacity="0.85"/>
<rect x="259.9" y="529.5" width="286.2" height="9.2" fill="url(#ggreen)"/>
<text x="549.0" y="537.9" textLength="69.1" lengthAdjust="spacingAndGlyphs" style="font-size:11.9px;font-weight:700;font-style:italic;" fill="#161616" stroke="#161616" stroke-width="0.3"><tspan>46.89</tspan><tspan font-size="9.8" dx="0.3">M</tspan><tspan> (94.6%)</tspan></text>
<rect x="259.8" y="539.7" width="356.9" height="11.0" fill="#fff" fill-opacity="0.85"/>
<rect x="259.9" y="540.6" width="355.7" height="9.2" fill="url(#gblue)"/>
<text x="618.5" y="549.0" textLength="67.3" lengthAdjust="spacingAndGlyphs" style="font-size:11.9px;font-weight:700;font-style:italic;" fill="#161616" stroke="#161616" stroke-width="0.6"><tspan>48.19</tspan><tspan font-size="9.8" dx="0.3">M</tspan><tspan> (95.7%)</tspan></text>
<rect x="259.8" y="557.6" width="15.1" height="11.0" fill="#fff" fill-opacity="0.85"/>
<rect x="259.9" y="558.5" width="13.9" height="9.2" fill="url(#gpink)"/>
<text x="276.8" y="566.9" textLength="52.8" lengthAdjust="spacingAndGlyphs" style="font-size:11.9px;font-weight:700;font-style:italic;" fill="#161616" stroke="#161616" stroke-width="0.3"><tspan>2.26</tspan><tspan font-size="9.8" dx="0.3">M</tspan><tspan> (5.1%)</tspan></text>
<rect x="259.8" y="568.7" width="28.9" height="11.0" fill="#fff" fill-opacity="0.85"/>
<rect x="259.9" y="569.6" width="27.7" height="9.2" fill="url(#gcyan)"/>
<text x="290.6" y="578.0" textLength="60.7" lengthAdjust="spacingAndGlyphs" style="font-size:11.9px;font-weight:700;font-style:italic;" fill="#161616" stroke="#161616" stroke-width="0.3"><tspan>4.50</tspan><tspan font-size="9.8" dx="0.3">M</tspan><tspan> (10.3%)</tspan></text>
<rect x="259.8" y="579.9" width="24.2" height="11.0" fill="#fff" fill-opacity="0.85"/>
<rect x="259.9" y="580.8" width="23.0" height="9.2" fill="url(#gorange)"/>
<text x="285.9" y="589.2" textLength="51.8" lengthAdjust="spacingAndGlyphs" style="font-size:11.9px;font-weight:700;font-style:italic;" fill="#161616" stroke="#161616" stroke-width="0.3"><tspan>3.71</tspan><tspan font-size="9.8" dx="0.3">M</tspan><tspan> (7.8%)</tspan></text>
<rect x="259.8" y="591.1" width="17.5" height="11.0" fill="#fff" fill-opacity="0.85"/>
<rect x="259.9" y="592.0" width="16.3" height="9.2" fill="url(#ggreen)"/>
<text x="279.4" y="600.4" textLength="54.9" lengthAdjust="spacingAndGlyphs" style="font-size:11.9px;font-weight:700;font-style:italic;" fill="#161616" stroke="#161616" stroke-width="0.3"><tspan>2.67</tspan><tspan font-size="9.8" dx="0.3">M</tspan><tspan> (5.4%)</tspan></text>
<rect x="259.8" y="602.2" width="14.6" height="11.0" fill="#fff" fill-opacity="0.85"/>
<rect x="259.9" y="603.1" width="13.4" height="9.2" fill="url(#gblue)"/>
<text x="276.4" y="611.5" textLength="55.2" lengthAdjust="spacingAndGlyphs" style="font-size:11.9px;font-weight:700;font-style:italic;" fill="#161616" stroke="#161616" stroke-width="0.6"><tspan>2.19</tspan><tspan font-size="9.8" dx="0.3">M</tspan><tspan> (4.3%)</tspan></text>
<rect x="259.8" y="620.1" width="36.4" height="11.0" fill="#fff" fill-opacity="0.85"/>
<rect x="259.9" y="621.0" width="35.2" height="9.2" fill="url(#gpink)"/>
<text x="298.5" y="629.4" textLength="58.1" lengthAdjust="spacingAndGlyphs" style="font-size:11.9px;font-weight:700;font-style:italic;" fill="#161616" stroke="#161616" stroke-width="0.3"><tspan>5.78</tspan><tspan font-size="9.8" dx="0.3">M</tspan><tspan> (13.8%)</tspan></text>
<rect x="259.8" y="631.3" width="40.4" height="11.0" fill="#fff" fill-opacity="0.85"/>
<rect x="259.9" y="632.2" width="39.2" height="9.2" fill="url(#gcyan)"/>
<text x="302.2" y="640.6" textLength="60.9" lengthAdjust="spacingAndGlyphs" style="font-size:11.9px;font-weight:700;font-style:italic;" fill="#161616" stroke="#161616" stroke-width="0.3"><tspan>6.40</tspan><tspan font-size="9.8" dx="0.3">M</tspan><tspan> (16.2%)</tspan></text>
<rect x="259.8" y="642.5" width="44.1" height="11.0" fill="#fff" fill-opacity="0.85"/>
<rect x="259.9" y="643.4" width="42.9" height="9.2" fill="url(#gorange)"/>
<text x="306.3" y="651.8" textLength="59.3" lengthAdjust="spacingAndGlyphs" style="font-size:11.9px;font-weight:700;font-style:italic;" fill="#161616" stroke="#161616" stroke-width="0.3"><tspan>7.00</tspan><tspan font-size="9.8" dx="0.3">M</tspan><tspan> (15.9%)</tspan></text>
<rect x="259.8" y="653.7" width="41.9" height="11.0" fill="#fff" fill-opacity="0.85"/>
<rect x="259.9" y="654.6" width="40.7" height="9.2" fill="url(#ggreen)"/>
<text x="304.2" y="663.0" textLength="59.5" lengthAdjust="spacingAndGlyphs" style="font-size:11.9px;font-weight:700;font-style:italic;" fill="#161616" stroke="#161616" stroke-width="0.3"><tspan>6.68</tspan><tspan font-size="9.8" dx="0.3">M</tspan><tspan> (14.2%)</tspan></text>
<rect x="259.8" y="664.8" width="37.8" height="11.0" fill="#fff" fill-opacity="0.85"/>
<rect x="259.9" y="665.7" width="36.6" height="9.2" fill="url(#gblue)"/>
<text x="300.2" y="674.1" textLength="60.9" lengthAdjust="spacingAndGlyphs" style="font-size:11.9px;font-weight:700;font-style:italic;" fill="#161616" stroke="#161616" stroke-width="0.6"><tspan>5.95</tspan><tspan font-size="9.8" dx="0.3">M</tspan><tspan> (12.3%)</tspan></text>
<text style="font-size:12.6px;font-style:italic" fill="#1c1c1c" stroke="#1c1c1c" stroke-width="0.65"><tspan x="206.3" y="449.8" textLength="48.2" lengthAdjust="spacingAndGlyphs">Labor Force</tspan> <tspan x="202.7" y="462.6" textLength="51.8" lengthAdjust="spacingAndGlyphs">(Labor Force</tspan> <tspan x="177.9" y="475.2" textLength="76.6" lengthAdjust="spacingAndGlyphs">Participation Rate)</tspan></text>
<text style="font-size:12.6px;font-style:italic" fill="#1c1c1c" stroke="#1c1c1c" stroke-width="0.65"><tspan x="213.2" y="519.5" textLength="41.3" lengthAdjust="spacingAndGlyphs">Employed</tspan> <tspan x="173.2" y="532.0" textLength="81.3" lengthAdjust="spacingAndGlyphs">(Employment Rate)</tspan></text>
<text style="font-size:12.6px;font-style:italic" fill="#1c1c1c" stroke="#1c1c1c" stroke-width="0.65"><tspan x="201.6" y="581.5" textLength="52.9" lengthAdjust="spacingAndGlyphs">Unemployed</tspan> <tspan x="162.4" y="594.1" textLength="92.1" lengthAdjust="spacingAndGlyphs">(Unemployment Rate)</tspan></text>
<text style="font-size:12.6px;font-style:italic" fill="#1c1c1c" stroke="#1c1c1c" stroke-width="0.65"><tspan x="188.0" y="640.0" textLength="66.5" lengthAdjust="spacingAndGlyphs">Underemployed</tspan> <tspan x="173.8" y="652.6" textLength="80.7" lengthAdjust="spacingAndGlyphs">(Underemployment</tspan> <tspan x="231.1" y="665.2" textLength="23.4" lengthAdjust="spacingAndGlyphs">Rate)</tspan></text>
<rect x="397.2" y="584.1" width="16.7" height="8.7" fill="url(#gpink)"/>
<text x="417.5" y="592.5" textLength="23.3" lengthAdjust="spacingAndGlyphs" style="font-size:12.2px;font-weight:400;" fill="#111" stroke="#111" stroke-width="0.5" >2019</text>
<rect x="397.2" y="599.4" width="16.7" height="8.7" fill="url(#gcyan)"/>
<text x="417.5" y="608.0" textLength="23.3" lengthAdjust="spacingAndGlyphs" style="font-size:12.2px;font-weight:400;" fill="#111" stroke="#111" stroke-width="0.5" >2020</text>
<rect x="397.2" y="614.6" width="16.7" height="8.7" fill="url(#gorange)"/>
<text x="417.5" y="623.0" textLength="23.3" lengthAdjust="spacingAndGlyphs" style="font-size:12.2px;font-weight:400;" fill="#111" stroke="#111" stroke-width="0.5" >2021</text>
<rect x="397.2" y="629.7" width="16.7" height="8.7" fill="url(#ggreen)"/>
<text x="417.5" y="638.2" textLength="23.3" lengthAdjust="spacingAndGlyphs" style="font-size:12.2px;font-weight:400;" fill="#111" stroke="#111" stroke-width="0.5" >2022</text>
<rect x="397.2" y="644.6" width="16.7" height="8.7" fill="url(#gblue)"/>
<text x="417.5" y="653.0" textLength="25.5" lengthAdjust="spacingAndGlyphs" style="font-size:12.2px;font-weight:700;" fill="#111" stroke="#111" stroke-width="0.4" >2023</text>
<text y="617.0" style="font-size:10.8px" fill="#222"><tspan x="530.0" textLength="28.8" lengthAdjust="spacingAndGlyphs" style="font-weight:700;">Source:</tspan> <tspan x="562.0" textLength="114.8" lengthAdjust="spacingAndGlyphs" style="font-weight:400;" stroke="#222" stroke-width="0.2">Philippine Statistics Authority</tspan></text>
<text y="627.7" style="font-size:10.8px" fill="#222"><tspan x="536.2" textLength="140.5" lengthAdjust="spacingAndGlyphs" style="font-weight:400;" stroke="#222" stroke-width="0.2">(Preliminary data as of Feb. 7, 2024)</tspan></text>
<text y="640.0" style="font-size:10.8px" fill="#222"><tspan x="477.5" textLength="57.5" lengthAdjust="spacingAndGlyphs" style="font-weight:700;font-style:italic;">BusinessWorld</tspan> <tspan x="538.0" textLength="35.8" lengthAdjust="spacingAndGlyphs" style="font-weight:700;">Research:</tspan> <tspan x="578.0" textLength="98.8" lengthAdjust="spacingAndGlyphs" style="font-weight:400;" stroke="#222" stroke-width="0.2">Mariedel Irish U. Catillogo</tspan></text>
<text y="652.5" style="font-size:10.8px" fill="#222"><tspan x="521.2" textLength="58.0" lengthAdjust="spacingAndGlyphs" style="font-weight:700;font-style:italic;">BusinessWorld</tspan> <tspan x="582.0" textLength="35.0" lengthAdjust="spacingAndGlyphs" style="font-weight:700;">Graphics:</tspan> <tspan x="620.8" textLength="56.0" lengthAdjust="spacingAndGlyphs" style="font-weight:400;" stroke="#222" stroke-width="0.2">Bong R. Fortin</tspan></text>
<g><g filter="url(#halo)">
<polygon points="721.9,633.8 790.0,633.8 798.8,688.8 769.4,688.8 759.4,651.2 754.4,651.2 753.8,688.8 724.4,688.8" fill="#9b2d52" />
<polygon points="788.8,515.0 796.2,521.2 805.6,546.2 811.9,561.2 817.8,578.8 813.8,590.0 803.1,610.0 800.0,620.0 793.8,620.0 794.4,591.2 800.0,578.8 795.6,567.5 791.9,557.5 793.1,545.0" fill="#bb3f63" />
<polygon points="716.9,516.2 752.5,512.5 791.2,516.2 793.1,551.2 791.9,570.0 793.8,610.0 793.8,634.4 715.6,634.4 715.6,610.0 720.0,557.5" fill="#c4486a" />
<polygon points="708.8,517.5 716.9,516.2 721.2,548.8 720.0,562.5 716.2,610.0 715.9,633.8 700.6,634.4 698.1,610.0 699.0,582.5 701.9,551.2 704.4,530.0" fill="#bb3f63" />
<polygon points="708.1,520.0 710.0,516.2 735.0,505.6 770.0,505.6 788.8,515.0 793.8,520.0 793.8,525.0 708.1,525.0" fill="#c4486a" />
<polygon points="708.1,520.0 710.0,516.2 727.5,509.0 718.1,525.0 708.1,525.0" fill="#bb3f63" />
<polygon points="777.5,510.0 788.8,515.0 793.8,520.0 796.2,530.0 788.8,530.0" fill="#bb3f63" />
<polygon points="731.9,529.4 748.1,529.4 748.1,551.9 731.9,551.9" fill="#b43a5d" />
<polygon points="768.1,531.2 785.0,531.2 785.0,551.9 768.1,551.9" fill="#b43a5d" />
<polygon points="718.1,564.4 753.8,565.2 753.8,580.2 717.8,580.0" fill="#bcdef4" />
<polygon points="765.0,566.5 791.9,565.2 791.9,578.8 765.0,580.0" fill="#bcdef4" />
<polygon points="715.6,590.0 754.4,590.6 754.4,606.0 715.4,606.0" fill="#bcdef4" />
<polygon points="765.0,591.2 793.1,591.0 793.1,605.2 765.0,605.2" fill="#bcdef4" />
<polygon points="701.9,549.4 720.9,556.9 720.0,563.4 701.0,556.9" fill="#bcdef4" />
<polygon points="792.2,558.1 806.9,546.5 809.8,553.5 794.0,566.0" fill="#bcdef4" />
<polygon points="793.5,567.5 799.8,578.8 794.0,590.6" fill="#fbfbfd" />
<polygon points="792.2,566.0 794.0,565.0 800.0,577.8 799.0,579.0" fill="#bcdef4" />
<polygon points="700.4,634.4 715.0,633.8 715.0,641.9 701.0,642.8" fill="#bcdef4" />
<polygon points="701.0,642.8 715.0,641.9 714.8,647.5 701.5,649.0" fill="#c4405a" />
<polygon points="793.8,615.6 797.8,616.9 796.2,623.1 793.8,621.9" fill="#bcdef4" />
<polygon points="702.5,649.0 714.0,648.1 716.2,657.5 718.1,663.8 714.4,670.0 710.0,674.4 703.1,670.0 697.5,665.0 698.1,658.1" fill="#2c6ba2" />
<polygon points="728.1,467.5 735.0,465.6 770.0,465.6 775.0,468.1 776.0,505.0 770.0,506.5 766.9,500.0 739.4,500.0 735.0,506.5 728.5,505.0" fill="#b4d6ef" />
<polygon points="733.1,467.5 739.4,467.5 738.5,473.8 735.2,476.9 733.1,473.8" fill="#1f5f9a" />
<polygon points="764.8,468.1 769.8,467.5 770.0,473.8 767.5,477.2 765.0,473.5" fill="#1f5f9a" />
<polygon points="736.2,468.8 767.2,468.8 768.1,478.1 770.2,478.8 769.0,484.0 766.2,485.2 763.8,493.8 763.5,501.9 756.2,507.8 741.2,500.6 741.5,493.8 738.1,485.2 734.4,484.0 732.5,479.0 735.0,477.5" fill="#f08b76" />
<polygon points="739.4,480.0 752.5,478.8 765.6,480.0 764.8,490.0 760.2,496.2 752.5,499.5 745.0,496.9 740.4,490.0" fill="#a6d6f0" />
<polygon points="735.6,500.2 741.2,499.8 756.2,507.8 768.5,500.2 769.5,505.0 777.5,511.2 757.5,520.6 733.8,510.0" fill="#a62c50" />
<polygon points="732.5,463.8 733.1,453.1 738.5,444.0 746.2,440.0 755.0,439.0 762.8,441.5 768.5,447.8 771.5,455.0 772.0,463.8" fill="#f0d264" />
<polygon points="724.4,460.6 732.5,459.5 752.5,461.9 771.5,459.5 778.2,460.0 776.2,463.2 767.5,467.5 752.5,470.8 737.5,468.2 727.5,464.5" fill="#ecca58" />
<circle cx="752.1" cy="448.2" r="5.0" fill="#cfe8f6" />
<circle cx="752.1" cy="448.2" r="3.5" fill="#a6d6f0" />
</g>
<g filter="url(#halo)">
<polygon points="842.5,454.0 852.5,456.0 860.0,462.2 865.0,471.2 867.8,478.8 865.2,486.2 868.4,493.8 865.2,501.2 869.6,511.5 860.0,510.2 848.8,510.2 837.5,507.8 827.5,511.5 816.6,514.0 819.4,505.0 816.9,496.2 821.2,488.8 819.1,480.0 823.1,471.2 827.5,462.5 835.0,456.5" fill="#a3305b" />
<polygon points="803.1,530.0 806.2,521.2 816.9,515.0 827.5,511.9 827.5,530.0" fill="#c3e0f5" />
<polygon points="805.6,518.8 818.8,518.8 817.5,543.8 796.9,561.9 791.9,557.5 806.9,545.0 802.5,527.5" fill="#c3e0f5" />
<polygon points="861.2,513.8 871.2,515.0 875.6,520.0 877.5,530.0 860.0,530.0" fill="#c3e0f5" />
<polygon points="871.2,518.8 877.5,519.4 882.8,572.5 889.0,610.0 890.0,618.8 883.1,618.8 881.0,610.0 872.5,576.2 875.6,557.5" fill="#c3e0f5" />
<polygon points="818.8,591.9 872.5,591.9 876.2,610.0 818.8,610.0" fill="#2a6699" />
<polygon points="817.1,609.4 876.2,609.4 886.2,685.0 881.2,688.4 815.0,689.0 813.8,647.5" fill="#2a6699" />
<polygon points="816.9,515.0 827.5,511.8 845.6,527.5 861.2,513.5 871.5,515.0 872.8,530.0 817.8,530.0" fill="#3d94d6" />
<polygon points="818.0,519.4 872.5,519.4 876.2,557.5 872.5,592.8 818.8,592.8" fill="#3d94d6" />
<polygon points="833.1,506.5 839.0,506.2 845.6,513.8 852.1,506.2 858.1,508.1 861.5,513.8 853.1,532.5 846.0,530.0 827.5,512.2" fill="#d2e8f8" />
<polygon points="836.2,519.4 858.8,519.4 852.5,536.5" fill="#d2e8f8" />
<polygon points="839.0,498.8 852.1,498.8 852.1,507.2 845.6,513.5 839.0,507.2" fill="#a9563f" />
<polygon points="835.6,466.0 845.0,473.8 859.0,478.8 860.0,480.0 863.1,481.2 862.5,487.5 858.5,490.0 852.8,499.8 845.0,502.8 837.5,499.0 831.9,489.4 828.1,488.1 826.5,482.5 828.1,479.4 830.6,480.0" fill="#b8614f" />
<polygon points="832.9,484.6 845.0,483.1 856.5,484.6 855.9,492.5 851.5,498.8 845.0,501.5 838.8,498.8 833.8,492.5" fill="#a6d6f0" />
<polygon points="845.6,517.5 850.0,516.5 852.1,520.0 850.9,522.8 852.8,532.5 848.8,532.5 847.9,522.8" fill="#1f5a85" />
<polygon points="847.2,519.4 852.1,519.4 854.6,532.5 852.2,537.1 849.4,532.5" fill="#1f5a85" />
<polygon points="815.6,561.9 841.2,561.9 841.2,568.5 815.6,568.5" fill="#a3305a" />
<polygon points="816.2,563.2 840.6,563.2 840.6,567.4 816.2,567.4" fill="#d2e8f8" />
<rect x="815.6" y="568.5" width="29.6" height="6.1" rx="2.8" fill="#1f4f80"/>
<rect x="816.6" y="569.6" width="13.6" height="4.1" rx="2" fill="#d2e8f8"/>
<rect x="816.9" y="575.0" width="26.6" height="6.5" rx="2.8" fill="#2a6699"/>
<rect x="818.1" y="576.2" width="10.2" height="4.4" rx="2" fill="#d2e8f8"/>
<polygon points="815.6,581.9 840.6,581.9 840.6,589.0 815.6,589.0" fill="#a3305a" />
<polygon points="816.2,582.9 840.0,582.9 840.0,587.2 816.2,587.2" fill="#d2e8f8" />
<polygon points="816.9,589.0 843.8,589.0 843.8,594.6 816.9,594.6" fill="#c4486a" />
<polygon points="818.1,589.8 843.1,589.8 843.1,593.8 818.1,593.8" fill="#d2e8f8" />
<polygon points="812.5,594.6 830.0,594.6 827.5,598.8 821.9,601.9 815.0,599.4" fill="#c8603f" />
</g>
<g filter="url(#halo)">
<polygon points="962.5,637.5 1013.8,637.5 1026.2,665.0 1025.0,687.9 1002.5,687.9 995.0,656.2 985.0,687.9 961.9,687.9" fill="#2a6699" />
<polygon points="1013.1,577.5 1018.8,587.5 1021.5,605.0 1013.1,605.0" fill="#2a6699" />
<polygon points="969.0,528.8 1011.9,528.8 1013.1,560.0 1014.5,600.0 1013.8,638.8 993.8,640.2 993.8,653.1 962.5,653.1 962.5,600.0 967.8,560.0" fill="#c4486a" />
<polygon points="964.0,521.9 968.1,515.0 976.2,510.6 990.0,505.0 998.8,511.2 1006.2,505.0 1021.2,511.2 1032.1,515.9 1033.2,541.2 1019.0,572.8 1005.0,570.2 1012.8,541.2 1011.9,528.8 969.0,528.8 968.2,547.5 965.2,542.8" fill="#bcdef4" />
<polygon points="982.5,509.4 1012.8,509.4 1006.2,528.8 976.9,528.8" fill="#a9d5ee" />
<polygon points="969.8,528.8 978.8,510.0 981.9,507.8 984.8,508.5 982.5,510.0 977.1,528.8" fill="#c4486a" />
<polygon points="1006.2,528.8 1012.5,510.0 1013.2,508.0 1016.5,509.0 1016.2,510.0 1012.0,528.8" fill="#c4486a" />
<polygon points="1005.0,570.0 1016.5,573.2 1001.2,601.2 993.5,601.2 997.5,585.0" fill="#f6b5c8" />
<polygon points="985.0,598.8 999.0,598.8 995.2,612.5 990.0,621.5 983.5,616.2" fill="#f6b5c8" />
<polygon points="968.1,600.0 972.5,598.8 973.1,615.0 969.4,623.8 966.5,620.0" fill="#f6b5c8" />
<polygon points="979.4,502.8 980.6,490.0 978.5,478.8 981.2,466.2 988.8,456.9 998.8,452.8 1008.8,456.2 1015.6,465.0 1018.8,478.8 1018.4,503.4 1007.5,504.0 1008.8,495.0 990.0,496.2 990.0,504.0" fill="#7c416c" />
<polygon points="991.0,495.0 1005.2,495.0 1005.9,505.0 998.8,511.5 991.0,505.0" fill="#f6b5c8" />
<polygon points="985.0,475.0 998.8,470.2 1006.9,463.1 1013.1,477.5 1015.6,475.6 1016.9,477.5 1016.5,481.5 1013.1,485.2 1010.0,490.2 1002.5,499.0 993.8,499.0 988.8,492.8 985.0,485.2 981.5,482.8 980.2,478.1 981.9,475.6" fill="#f6b5c8" />
<polygon points="986.2,482.1 998.1,480.6 1009.4,482.1 1008.8,490.0 1003.8,497.5 998.1,499.6 992.5,497.5 987.5,490.0" fill="#9fd3ee" />
<polygon points="951.2,641.9 992.8,641.9 993.0,665.0 1011.5,666.2 1006.5,682.8 951.2,682.8" fill="#bcdef4" fill-opacity="0.35"/>
<polyline points="951.5,642.9 992.5,642.9" fill="none" stroke="#c6e3f6" stroke-width="3.00" stroke-linecap="round" stroke-linejoin="round" />
<polyline points="951.5,650.0 992.5,650.0" fill="none" stroke="#c6e3f6" stroke-width="3.00" stroke-linecap="round" stroke-linejoin="round" />
<polyline points="951.5,657.8 992.5,657.8" fill="none" stroke="#c6e3f6" stroke-width="3.00" stroke-linecap="round" stroke-linejoin="round" />
<polyline points="951.5,666.2 992.5,666.2" fill="none" stroke="#c6e3f6" stroke-width="3.00" stroke-linecap="round" stroke-linejoin="round" />
<polyline points="951.5,674.8 992.5,674.8" fill="none" stroke="#c6e3f6" stroke-width="3.00" stroke-linecap="round" stroke-linejoin="round" />
<polyline points="951.5,681.9 992.5,681.9" fill="none" stroke="#c6e3f6" stroke-width="3.00" stroke-linecap="round" stroke-linejoin="round" />
<polyline points="952.5,642.2 952.5,682.5" fill="none" stroke="#c6e3f6" stroke-width="2.75" stroke-linecap="round" stroke-linejoin="round" />
<polyline points="959.8,642.2 959.8,682.5" fill="none" stroke="#c6e3f6" stroke-width="2.75" stroke-linecap="round" stroke-linejoin="round" />
<polyline points="966.5,642.2 966.5,682.5" fill="none" stroke="#c6e3f6" stroke-width="2.75" stroke-linecap="round" stroke-linejoin="round" />
<polyline points="973.5,642.2 973.5,682.5" fill="none" stroke="#c6e3f6" stroke-width="2.75" stroke-linecap="round" stroke-linejoin="round" />
<polyline points="980.5,642.2 980.5,682.5" fill="none" stroke="#c6e3f6" stroke-width="2.75" stroke-linecap="round" stroke-linejoin="round" />
<polyline points="987.5,642.2 987.5,682.5" fill="none" stroke="#c6e3f6" stroke-width="2.75" stroke-linecap="round" stroke-linejoin="round" />
<polyline points="992.5,642.2 992.5,682.5" fill="none" stroke="#c6e3f6" stroke-width="2.75" stroke-linecap="round" stroke-linejoin="round" />
<polyline points="993.0,666.0 1011.2,666.9 1006.2,682.2 993.0,682.2" fill="none" stroke="#c6e3f6" stroke-width="2.50" stroke-linecap="round" stroke-linejoin="round" />
<polyline points="1000.0,666.9 996.9,681.9" fill="none" stroke="#c6e3f6" stroke-width="2.25" stroke-linecap="round" stroke-linejoin="round" />
<polyline points="1006.2,666.9 1001.9,681.9" fill="none" stroke="#c6e3f6" stroke-width="2.25" stroke-linecap="round" stroke-linejoin="round" />
<polyline points="993.8,674.8 1008.1,674.8" fill="none" stroke="#c6e3f6" stroke-width="2.25" stroke-linecap="round" stroke-linejoin="round" />
<polyline points="956.2,640.0 971.0,612.5 972.8,612.5 980.6,640.6" fill="none" stroke="#c6e3f6" stroke-width="2.75" stroke-linecap="round" stroke-linejoin="round" />
<polyline points="981.2,641.2 984.0,616.2" fill="none" stroke="#c6e3f6" stroke-width="2.75" stroke-linecap="round" stroke-linejoin="round" />
<polyline points="991.9,617.5 1001.5,636.5" fill="none" stroke="#c6e3f6" stroke-width="2.75" stroke-linecap="round" stroke-linejoin="round" />
</g>
<g filter="url(#halo)">
<polygon points="893.8,581.9 920.6,581.9 920.6,596.9 951.2,596.9 951.2,612.5 889.4,612.5" fill="#7a3b62" />
<polygon points="891.2,608.8 951.2,608.8 947.8,689.0 920.2,689.0 919.5,645.0 917.8,689.0 888.8,689.0 887.5,647.5" fill="#7a3b62" />
<polygon points="918.8,598.8 949.6,598.8 947.1,688.4 918.8,688.4" fill="#7a3b62" />
<polygon points="888.8,499.0 904.4,495.0 910.0,492.5 932.5,492.5 938.1,498.8 958.1,504.6 962.5,517.5 963.8,537.5 890.0,537.5" fill="#c4486a" />
<polygon points="887.5,517.5 951.2,517.5 951.2,548.5 920.2,548.5 920.2,582.8 893.8,582.8 890.2,562.8 889.0,549.4 890.2,536.2" fill="#c4486a" />
<polygon points="918.8,505.0 956.5,505.0 956.5,548.1 918.8,548.1" fill="#c4486a" />
<polygon points="875.6,530.0 877.5,510.0 881.2,504.4 888.8,502.5 888.8,530.0" fill="#a6325a" />
<polygon points="876.0,519.4 887.8,519.4 890.2,536.2 889.0,549.8 880.0,550.2 877.5,535.0" fill="#a6325a" />
<polygon points="955.6,502.5 959.8,507.5 965.9,542.8 960.0,547.8 953.8,547.8" fill="#a6325a" />
<polygon points="880.0,549.4 889.0,549.4 890.2,563.1 920.2,572.5 919.0,580.2 882.5,570.2 881.5,562.5" fill="#f08b76" />
<polygon points="910.2,483.8 932.1,483.8 932.1,495.0 925.2,503.5 910.0,493.1" fill="#f08b76" />
<polygon points="908.5,491.0 923.1,502.5 915.0,511.5 903.5,495.6" fill="#9b2d52" />
<polygon points="931.9,492.2 938.4,498.8 933.1,511.5 925.5,503.8" fill="#9b2d52" />
<polygon points="896.9,520.0 914.4,519.4 914.4,525.2 897.1,526.2" fill="#bcdef4" />
<polygon points="936.9,519.4 952.5,520.0 952.5,526.5 937.1,526.0" fill="#bcdef4" />
<polygon points="920.0,548.1 997.0,548.1 997.0,597.5 920.0,597.5" fill="#b4dbf5" />
<polygon points="948.8,548.5 949.5,548.5 949.5,597.2 948.8,597.2" fill="#a9d3ee" />
<polygon points="976.9,553.8 993.1,553.8 993.1,558.1 976.9,558.1" fill="#a9d3ee" />
<polygon points="953.8,588.1 963.8,588.1 963.8,591.2 953.8,591.2" fill="#a9d3ee" />
<polygon points="918.8,571.5 924.4,569.4 929.8,565.0 931.0,566.5 928.1,571.2 933.8,575.0 944.0,578.5 943.5,580.0 935.0,578.8 943.1,585.6 942.2,587.1 932.5,581.9 936.0,590.6 934.4,591.5 928.5,583.1 929.0,591.2 927.2,591.5 924.4,585.0 920.0,581.2" fill="#f08b76" />
<polygon points="905.6,456.2 935.6,456.2 936.2,466.2 939.4,463.8 940.9,467.5 939.0,472.5 935.2,473.4 932.5,481.5 927.5,487.8 915.0,487.8 910.0,481.5 907.5,473.4 903.8,472.5 901.2,467.5 902.5,463.8 905.6,465.6" fill="#f08b76" />
<polygon points="901.9,456.2 907.8,456.2 907.0,465.2 902.5,465.2" fill="#f0d060" />
<polygon points="933.1,455.6 938.4,455.6 938.4,462.5 935.0,465.2" fill="#f0d060" />
<polygon points="908.1,469.6 920.6,468.1 933.8,469.6 932.8,480.0 927.5,486.2 920.6,488.4 913.8,486.2 908.8,480.0" fill="#a6d6f0" />
<polygon points="920.0,432.0 936.5,440.0 938.5,454.8 902.2,455.2 904.8,440.6" fill="#9b2d52" />
<polygon points="920.0,434.0 934.8,441.0 936.5,453.2 920.6,450.0 905.0,454.0 906.5,441.2" fill="#a6d6f0" />
<polygon points="904.0,455.2 911.2,451.5 920.6,449.8 930.0,451.2 937.2,454.5 931.2,456.2 920.6,456.8 910.0,456.2" fill="#9b2d52" />
</g>
<g filter="url(#halo)">
<polygon points="885.6,611.9 891.5,613.5 892.8,621.5 890.6,624.4 888.8,620.0" fill="#c8603f" />
<polygon points="876.0,617.2 909.0,621.9 901.9,649.8 879.0,643.8" fill="#f4f8fc" />
<polygon points="877.5,619.0 906.2,623.5 900.0,647.2 880.5,642.2" fill="#1f5a8c" />
<polygon points="886.9,613.1 891.0,614.0 892.2,621.0 891.0,626.9 889.4,621.9" fill="#c8603f" />
</g>
<g filter="url(#halo)">
<polygon points="993.8,637.5 1043.8,637.5 1043.8,649.0 993.8,649.0" fill="#c4486a" />
<polygon points="993.8,649.0 1020.0,649.0 1020.0,665.2 993.8,665.2" fill="#b93c5f" />
<polygon points="1020.0,649.0 1043.8,649.0 1043.8,665.2 1020.0,665.2" fill="#ab2f52" />
<polygon points="1014.8,637.1 1016.9,630.6 1020.0,629.2 1028.8,629.2 1031.5,630.6 1033.4,637.1 1030.0,637.1 1028.5,632.8 1020.2,632.8 1018.2,637.1" fill="#a3305a" />
<polygon points="1043.1,603.1 1106.2,603.1 1107.1,625.0 1110.9,688.4 1082.5,688.4 1075.0,638.8 1072.5,688.4 1046.9,688.4 1043.8,637.5" fill="#1b5487" />
<polygon points="1031.2,540.6 1042.1,546.5 1042.8,575.0 1033.1,600.6 1032.8,608.8 1018.8,608.8 1023.8,600.0 1029.4,572.5" fill="#f08b76" />
<polygon points="1113.1,546.9 1128.8,546.9 1130.9,563.8 1125.2,600.0 1123.5,611.2 1112.5,608.8 1114.4,600.0 1117.5,566.2" fill="#f08b76" />
<polygon points="1126.5,606.9 1130.2,609.8 1103.8,646.5 1101.5,650.0 1098.8,651.5 1096.5,649.8 1099.8,646.5 1098.2,644.0 1095.0,646.5 1093.1,644.0 1095.2,640.6 1099.4,639.8 1123.1,607.5" fill="#bcdef4" />
<polygon points="1018.8,607.2 1030.9,607.2 1030.2,630.0 1027.1,637.1 1017.5,636.5 1015.6,630.0" fill="#2c87cb" />
<polygon points="1112.5,608.5 1125.2,613.5 1123.4,629.0 1116.2,635.2 1109.0,629.0 1107.5,622.5" fill="#2c87cb" />
<polygon points="1036.2,515.2 1038.8,501.2 1058.8,494.4 1068.1,489.4 1073.8,500.6 1087.5,488.8 1096.2,493.1 1117.5,500.0 1123.1,515.2" fill="#2b86c2" />
<polygon points="1036.2,509.4 1041.9,509.4 1042.1,546.5 1031.2,540.2" fill="#2b86c2" />
<polygon points="1108.1,509.4 1120.2,509.4 1125.2,522.5 1129.0,547.8 1110.0,547.8 1105.0,535.0" fill="#2b86c2" />
<polygon points="1040.6,509.4 1108.8,509.4 1105.2,535.0 1107.1,556.9 1106.5,600.2 1041.9,600.2 1042.5,556.9" fill="#c4486a" />
<polygon points="1041.2,599.4 1062.8,599.4 1062.8,606.5 1043.1,603.8" fill="#c4486a" />
<polygon points="1066.9,599.4 1106.5,599.4 1106.5,604.5 1070.0,607.8" fill="#c4486a" />
<polygon points="1039.4,515.2 1040.0,501.2 1058.8,494.4 1062.8,515.2" fill="#c4486a" />
<polygon points="1081.0,515.2 1096.2,493.5 1112.8,498.8 1107.8,515.2" fill="#c4486a" />
<polygon points="1058.8,494.4 1068.1,489.4 1073.8,500.6 1087.5,488.8 1096.2,493.5 1081.2,515.2 1062.5,515.2" fill="#2b86c2" />
<polygon points="1066.0,505.2 1075.0,500.6 1082.8,505.0 1081.9,515.2 1066.2,515.2" fill="#1b5487" />
<polygon points="1061.9,509.4 1083.4,509.4 1069.6,529.0" fill="#1b5487" />
<polygon points="1068.1,481.9 1087.5,481.9 1087.5,490.0 1073.8,500.2 1068.1,491.2" fill="#f08b76" />
<polygon points="1046.2,515.2 1047.5,498.1 1052.0,496.5 1051.2,515.2" fill="#d5e9f7" />
<polygon points="1094.4,515.2 1101.2,495.2 1107.1,497.0 1101.5,515.2" fill="#d5e9f7" />
<polygon points="1046.2,509.4 1050.9,509.4 1052.1,557.1 1047.5,557.1" fill="#d5e9f7" />
<polygon points="1095.6,509.4 1102.8,509.4 1093.4,557.1 1087.5,557.1" fill="#d5e9f7" />
<polygon points="1042.5,556.9 1063.1,556.9 1063.1,575.9 1042.5,575.9" fill="#bcdef4" />
<polygon points="1066.9,556.9 1106.5,556.9 1106.5,575.9 1066.9,575.9" fill="#bcdef4" />
<polygon points="1063.5,591.2 1065.2,591.2 1065.5,600.2 1063.2,600.2" fill="#1b5487" />
<polygon points="1059.4,451.5 1065.2,454.4 1063.1,462.8 1060.0,461.5" fill="#5c3b7b" />
<polygon points="1089.8,454.0 1095.2,451.2 1094.6,461.5 1091.9,462.8" fill="#5c3b7b" />
<polygon points="1062.5,454.4 1091.9,454.4 1092.5,461.5 1095.6,461.2 1096.5,466.2 1093.1,470.2 1090.0,471.5 1087.5,480.2 1081.2,485.9 1071.2,485.9 1066.2,480.2 1063.1,470.9 1060.0,469.6 1057.5,465.0 1058.1,461.2 1061.9,462.1" fill="#f08b76" />
<polygon points="1063.8,467.1 1076.9,465.6 1089.6,467.1 1088.4,477.5 1082.5,483.8 1076.9,485.9 1071.2,483.8 1065.0,477.5" fill="#a6d6f0" />
<polygon points="1056.6,449.6 1058.8,441.2 1066.2,433.8 1076.9,429.8 1087.5,433.8 1094.6,442.5 1097.2,449.0 1087.5,454.6 1076.9,456.5 1066.2,455.2" fill="#f0d264" />
<polygon points="1073.1,430.6 1074.8,429.5 1078.8,429.5 1080.2,430.6 1080.9,443.8 1076.9,445.9 1072.9,443.8" fill="#e2c455" />
</g>
<circle cx="1114" cy="664" r="19.6" fill="#d98b21"/>
<text x="1098.9" y="672.9" textLength="30.2" lengthAdjust="spacingAndGlyphs" style="font-family:&quot;Liberation Serif&quot;,serif;font-size:24.5px;font-weight:700;" fill="#fff" stroke="#fff" stroke-width="0.7">BW</text></g>
</svg>
</body></html>
